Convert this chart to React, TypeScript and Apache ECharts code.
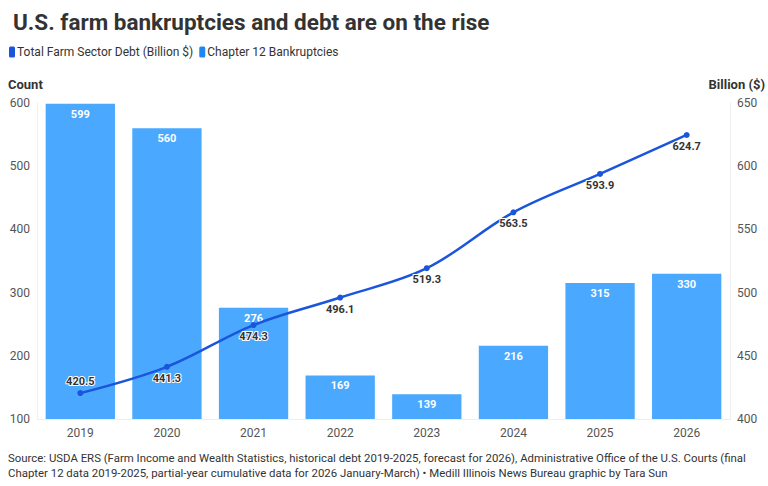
import React, { useEffect, useRef } from "react";
import * as echarts from "echarts";

const years = ["2019", "2020", "2021", "2022", "2023", "2024", "2025", "2026"];
const bankruptcies = [599, 560, 276, 169, 139, 216, 315, 330];
const debt = [420.5, 441.3, 474.3, 496.1, 519.3, 563.5, 593.9, 624.7];
const debtLabelPos = ["top", "bottom", "bottom", "bottom", "bottom", "bottom", "bottom", "bottom"];

const FONT = "Roboto, 'Noto Sans', sans-serif";

export default function App() {
  const ref = useRef<HTMLDivElement>(null);
  useEffect(() => {
    if (!ref.current) return;
    const chart = echarts.init(ref.current, null, { renderer: "svg" });
    chart.setOption({
      animation: false,
      textStyle: { fontFamily: FONT },
      title: {
        text: "U.S. farm bankruptcies and debt are on the rise",
        left: 8,
        top: 5,
        textStyle: { fontSize: 22.5, fontWeight: "bold", color: "#333", fontFamily: FONT },
      },
      legend: {
        left: 4,
        top: 41,
        itemWidth: 6,
        itemHeight: 11,
        itemGap: 6,
        icon: "roundRect",
        textStyle: { fontSize: 12, color: "#333", padding: [0, 0, 0, -3] },
        data: [
          { name: "Total Farm Sector Debt (Billion $)", itemStyle: { color: "#1a56db" } },
          { name: "Chapter 12 Bankruptcies", itemStyle: { color: "#1e88f0" } },
        ],
      },
      grid: { left: 37, right: 38, top: 103, bottom: 67 },
      xAxis: {
        type: "category",
        data: years,
        axisLine: { lineStyle: { color: "#eeeeee" } },
        axisTick: { show: false },
        axisLabel: { color: "#555", fontSize: 12, margin: 8 },
      },
      yAxis: [
        {
          type: "value",
          min: 100,
          max: 600,
          interval: 100,
          name: "Count",
          nameLocation: "end",
          nameGap: 12,
          nameTextStyle: { align: "left", padding: [0, 0, 0, -29], fontSize: 13, fontWeight: "bold", color: "#333" },
          axisLine: { show: true, lineStyle: { color: "#f0f0f0" } },
          splitLine: { show: false },
          axisLabel: { color: "#555", fontSize: 12, margin: 7 },
        },
        {
          type: "value",
          min: 400,
          max: 650,
          interval: 50,
          name: "Billion ($)",
          nameLocation: "end",
          nameGap: 12,
          nameTextStyle: { align: "right", padding: [0, -35, 0, 0], fontSize: 13, fontWeight: "bold", color: "#333" },
          axisLine: { show: true, lineStyle: { color: "#eeeeee" } },
          splitLine: { show: false },
          axisLabel: { color: "#555", fontSize: 12, margin: 7 },
        },
      ],
      series: [
        {
          name: "Chapter 12 Bankruptcies",
          type: "bar",
          yAxisIndex: 0,
          data: bankruptcies,
          barCategoryGap: "20%",
          itemStyle: { color: "#4aa8ff" },
          label: {
            show: true,
            position: "insideTop",
            distance: 5,
            color: "#fff",
            fontWeight: "bold",
            fontSize: 11,
          },
        },
        {
          name: "Total Farm Sector Debt (Billion $)",
          type: "line",
          yAxisIndex: 1,
          smooth: 0.35,
          data: debt.map((v, i) => ({
            value: v,
            label: { position: debtLabelPos[i] },
          })),
          symbol: "circle",
          symbolSize: 6,
          lineStyle: { color: "#1a56db", width: 2.5 },
          itemStyle: { color: "#1a56db" },
          label: {
            show: true,
            color: "#333",
            fontSize: 11,
            fontWeight: "bold",
            textBorderColor: "#fff",
            textBorderWidth: 2,
            distance: 3,
          },
          z: 5,
        },
      ],
      graphic: [
        {
          type: "text",
          left: 8,
          top: 450,
          style: {
            text:
              "Source: USDA ERS (Farm Income and Wealth Statistics, historical debt 2019-2025, forecast for 2026), Administrative Office of the U.S. Courts (final\nChapter 12 data 2019-2025, partial-year cumulative data for 2026 January-March) • Medill Illinois News Bureau graphic by Tara Sun",
            fontSize: 11.4,
            lineHeight: 15,
            fill: "#333",
            fontFamily: FONT,
          },
        },
      ],
    });
    return () => chart.dispose();
  }, []);
  return <div ref={ref} style={{ width: 768, height: 486, position: "absolute", left: 0, top: 0 }} />;
}
